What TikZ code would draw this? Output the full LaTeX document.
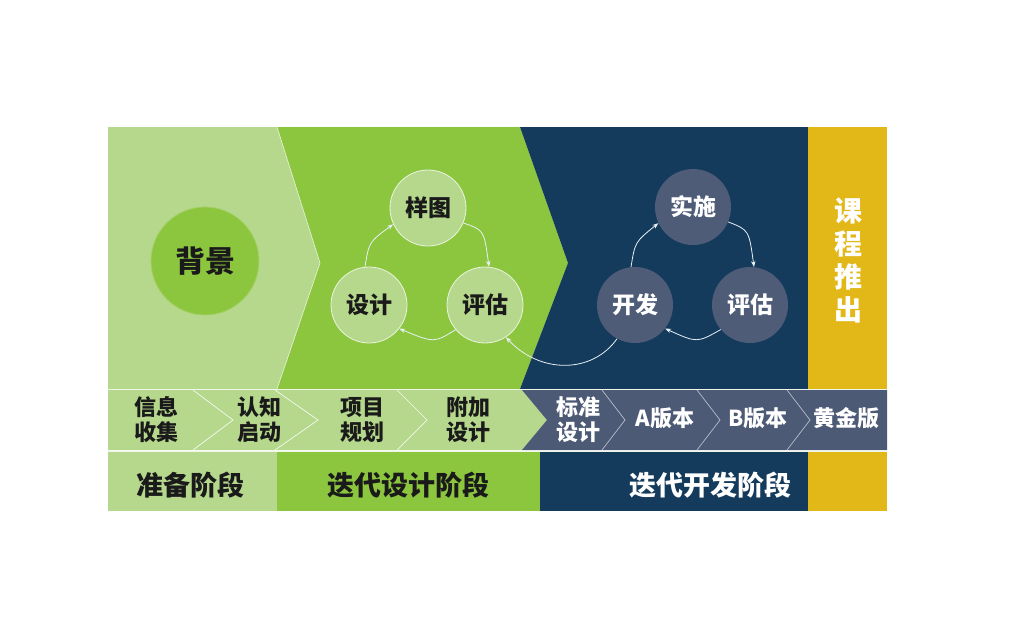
\documentclass[tikz,border=0pt]{standalone}
\usepackage{fontspec}
\setmainfont{Noto Sans CJK SC}
\usetikzlibrary{arrows.meta}
\definecolor{lg}{HTML}{B5D88D}
\definecolor{mg}{HTML}{8CC63F}
\definecolor{navy}{HTML}{143A5C}
\definecolor{gold}{HTML}{E2B718}
\definecolor{slate}{HTML}{4C5A76}
\definecolor{dcirc}{HTML}{4E5C78}
\definecolor{ink}{HTML}{1A1A1A}
\definecolor{arrw}{HTML}{E8F0F6}
\tikzset{
  gcirc/.style={circle,fill=lg,draw=white!70!lg,line width=0.8pt,minimum size=76pt,inner sep=0pt,text=ink,font=\fontsize{23}{26}\selectfont\bfseries},
  bcirc/.style={circle,fill=dcirc,minimum size=76pt,inner sep=0pt,text=white,font=\fontsize{23}{26}\selectfont\bfseries},
  looparr/.style={draw=arrw,line width=0.8pt,-{Stealth[length=6pt,width=4.5pt]}},
  seplin/.style={draw=white!85!lg,line width=0.7pt},
  steptxt/.style={align=center,font=\fontsize{22}{25}\selectfont\bfseries,inner sep=0pt},
  phasetxt/.style={font=\fontsize{27}{30}\selectfont\bfseries,inner sep=0pt},
}
\begin{document}
\begin{tikzpicture}[x=1pt,y=-1pt]
\useasboundingbox[fill=white] (0,0) rectangle (1009,630);
% top regions
\fill[lg] (108,127) -- (277,127) -- (320,263) -- (277,389) -- (108,389) -- cycle;
\fill[mg] (277,127) -- (520,127) -- (568,263) -- (520,389) -- (277,389) -- (320,263) -- cycle;
\fill[navy] (520,127) -- (808,127) -- (808,389) -- (520,389) -- (568,263) -- cycle;
\fill[gold] (808,127) rectangle (887,389);
\draw[white!60!lg,line width=0.7pt] (277,127) -- (320,263) -- (277,389);
% step strip
\fill[lg] (108,390) -- (522,390) -- (547,420) -- (522,450) -- (108,450) -- cycle;
\fill[slate] (522,390) -- (887,390) -- (887,450) -- (522,450) -- (547,420) -- cycle;
\draw[seplin] (193,390) -- (233,420) -- (193,450);
\draw[seplin] (275,390) -- (318,420) -- (275,450);
\draw[seplin] (397,390) -- (427,420) -- (397,450);
\draw[white!60!slate,line width=0.7pt] (602,390) -- (625,420) -- (602,450);
\draw[white!60!slate,line width=0.7pt] (697,390) -- (720,420) -- (697,450);
\draw[white!60!slate,line width=0.7pt] (787,390) -- (810,420) -- (787,450);
\draw[white!80!lg,line width=1pt] (108,389.5) -- (887,389.5);
\draw[white!80!lg,line width=1pt] (108,451) -- (887,451);
% phase row
\fill[lg] (108,452) rectangle (277,511);
\fill[mg] (277,452) rectangle (540,511);
\fill[navy] (540,452) rectangle (808,511);
\fill[gold] (808,452) rectangle (887,511);
% circles
\node[circle,fill=mg,draw=mg!80!white,line width=0.8pt,minimum size=108pt,inner sep=0pt,text=ink,font=\fontsize{30}{33}\selectfont\bfseries] (bj) at (205,261) {背景};
\node[gcirc] (yt) at (428,208) {样图};
\node[gcirc] (sj) at (369,305) {设计};
\node[gcirc] (pg1) at (485,305) {评估};
\node[bcirc] (ss) at (693,207) {实施};
\node[bcirc] (kf) at (635,305) {开发};
\node[bcirc] (pg2) at (750,305) {评估};
% loop arrows
\draw[looparr] (sj.96) .. controls (369,242) .. (yt.205);
\draw[looparr] (yt.337) .. controls (484,230) .. (pg1.84);
\draw[looparr] (pg1.220) .. controls (434,343) .. (sj.322);
\draw[looparr] (kf.96) .. controls (635,242) .. (ss.205);
\draw[looparr] (ss.337) .. controls (749,230) .. (pg2.84);
\draw[looparr] (pg2.220) .. controls (697,343) .. (kf.322);
\draw[looparr] (kf.242) .. controls (592,374) and (540,374) .. (pg1.303);
% launch
\node[text=white,align=center,font=\fontsize{28}{33}\selectfont\bfseries,inner sep=0pt] (tc) at (848,260) {课\\程\\推\\出};
% steps
\node[steptxt,text=ink] (s1) at (156,420) {信息\\收集};
\node[steptxt,text=ink] (s2) at (259,420) {认知\\启动};
\node[steptxt,text=ink] (s3) at (362,420) {项目\\规划};
\node[steptxt,text=ink] (s4) at (468,420) {附加\\设计};
\node[steptxt,text=white] (s5) at (578,420) {标准\\设计};
\node[steptxt,text=white] (s6) at (665,418) {A版本};
\node[steptxt,text=white] (s7) at (758,418) {B版本};
\node[steptxt,text=white] (s8) at (846,418) {黄金版};
% phases
\node[phasetxt,text=ink] (p1) at (190,485) {准备阶段};
\node[phasetxt,text=ink] (p2) at (408,485) {迭代设计阶段};
\node[phasetxt,text=white] (p3) at (710,485) {迭代开发阶段};
\end{tikzpicture}
\end{document}
